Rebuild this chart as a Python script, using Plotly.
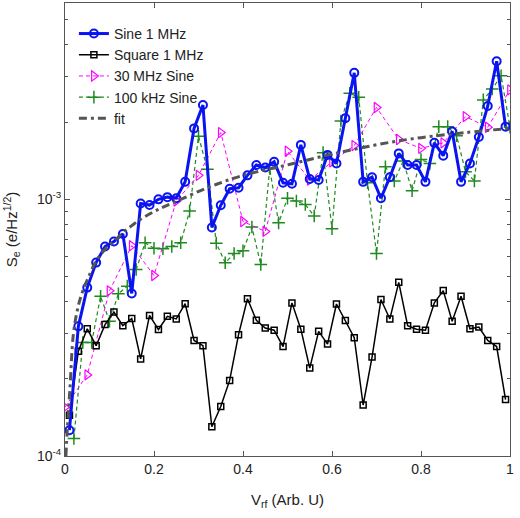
import plotly.graph_objects as go

# x grids (Arb. U)
x_odd = [round(0.01 + 0.02 * i, 2) for i in range(50)]
x_even = [round(0.02 + 0.02 * i, 2) for i in range(50)]
x_30mhz = [round(0.05 * i, 2) for i in range(21)]

# Sine 1 MHz (units of 1e-3)
sine_1mhz = [0.126, 0.320, 0.453, 0.567, 0.655, 0.685, 0.733, 0.430, 0.964, 0.950,
             1.00, 1.02, 1.01, 1.17, 1.89, 2.33, 0.777, 0.948, 1.10, 1.11,
             1.24, 1.36, 1.33, 1.40, 1.16, 1.15, 1.63, 1.20, 1.19, 1.49,
             1.38, 2.07, 3.11, 1.17, 1.22, 1.01, 1.22, 1.51, 1.36, 1.36,
             1.17, 1.66, 1.48, 1.84, 1.17, 1.38, 1.75, 2.31, 3.45, 1.92]

# Square 1 MHz (units of 1e-4)
square_1mhz = [1.44, 2.56, 3.13, 2.69, 3.25, 3.64, 3.22, 3.43, 2.39, 3.53,
               3.11, 3.50, 3.42, 3.92, 2.82, 2.69, 1.30, 1.56, 1.97, 2.97,
               4.10, 3.38, 3.15, 3.09, 2.67, 3.95, 3.12, 2.20, 3.06, 2.73,
               3.91, 3.37, 2.89, 1.58, 2.43, 4.07, 3.42, 4.75, 3.22, 3.12,
               3.09, 3.95, 4.41, 3.35, 4.19, 3.13, 3.18, 2.82, 2.67, 1.66]

# 30 MHz Sine (units of 1e-4)
sine_30mhz = [1.55, 2.07, 4.40, 6.60, 5.05, 9.85, 12.4, 18.2, 8.20, 7.50, 15.4,
              11.9, 14.0, 16.2, 22.8, 17.1, 15.8, 16.6, 21.0, 19.1, 26.7]

# 100 kHz Sine (units of 1e-4)
sine_100khz = [1.17, 2.77, 2.77, 4.19, 3.35, 4.29, 4.59, 5.33, 6.77, 6.45,
               6.42, 6.55, 6.77, 9.0, 17.6, 13.1, 6.75, 5.66, 6.15, 6.30,
               7.80, 5.57, 13.2, 8.10, 10.1, 9.85, 9.55, 8.61, 15.2, 7.68,
               20.2, 25.9, 25.0, 11.6, 6.15, 13.4, 11.8, 14.1, 10.8, 14.3,
               13.8, 19.2, 19.2, 17.7, 12.8, 11.8, 24.4, 26.9, 30.3, 19.1]

# fit curve (units of 1e-3)
fit_x = [0.002, 0.005, 0.011, 0.019, 0.03, 0.041, 0.052, 0.07, 0.094, 0.112,
         0.131, 0.15, 0.169, 0.213, 0.26, 0.326, 0.4, 0.506, 0.6, 0.75, 0.9, 1.0]
fit_y = [0.100, 0.126, 0.181, 0.300, 0.385, 0.445, 0.494, 0.575, 0.650, 0.690,
         0.745, 0.790, 0.835, 0.920, 1.00, 1.12, 1.24, 1.37, 1.50, 1.69, 1.82, 1.89]

fig = go.Figure()

fig.add_trace(go.Scatter(x=x_even, y=[v * 1e-4 for v in sine_100khz], name="100 kHz Sine",
                         mode="lines+markers", legendrank=4,
                         line=dict(color="#1f8a1f", width=1.2, dash="4px,3px"),
                         marker=dict(symbol="cross-thin-open", size=9,
                                     line=dict(color="#1f8a1f", width=1.5))))
fig.add_trace(go.Scatter(x=x_30mhz, y=[v * 1e-4 for v in sine_30mhz], name="30 MHz Sine",
                         mode="lines+markers", legendrank=3,
                         line=dict(color="#ff00ff", width=1, dash="4px,3px"),
                         marker=dict(symbol="triangle-right-open", size=9,
                                     line=dict(color="#ff00ff", width=1.2))))
fig.add_trace(go.Scatter(x=x_odd, y=[v * 1e-4 for v in square_1mhz], name="Square 1 MHz",
                         mode="lines+markers", legendrank=2,
                         line=dict(color="black", width=1.5),
                         marker=dict(symbol="square-open", size=6, color="black",
                                     line=dict(color="black", width=1.5))))
fig.add_trace(go.Scatter(x=x_odd, y=[v * 1e-3 for v in sine_1mhz], name="Sine 1 MHz",
                         mode="lines+markers", legendrank=1,
                         line=dict(color="#0a14f0", width=3),
                         marker=dict(symbol="circle-open", size=8, color="#0a14f0",
                                     line=dict(color="#0a14f0", width=2))))
fig.add_trace(go.Scatter(x=fit_x, y=[v * 1e-3 for v in fit_y], name="fit",
                         mode="lines", legendrank=5, line_shape="spline",
                         line=dict(color="#555555", width=3, dash="8px,4px,3px,4px")))

axis_style = dict(showline=True, linecolor="#555", linewidth=1, mirror="ticks",
                  ticks="inside", ticklen=5, tickcolor="#555", showgrid=False,
                  zeroline=False, automargin=False, tickfont=dict(size=14, color="#222"))

fig.update_xaxes(range=[0, 1], tickvals=[0, 0.2, 0.4, 0.6, 0.8, 1],
                 ticktext=["0", "0.2", "0.4", "0.6", "0.8", "1"],
                 title=dict(text="V<sub>rf</sub> (Arb. U)", font=dict(size=15, color="#222"),
                            standoff=18),
                 **axis_style)
fig.update_yaxes(type="log", range=[-4, -2.235], tickvals=[1e-4, 1e-3],
                 ticktext=["10<sup>-4</sup>", "10<sup>-3</sup>"],
                 minor=dict(ticks="inside", ticklen=3, tickcolor="#555", tickmode="array",
                            tickvals=[2e-4, 3e-4, 4e-4, 5e-4, 6e-4, 7e-4, 8e-4, 9e-4,
                                      2e-3, 3e-3, 4e-3, 5e-3]),
                 title=dict(text="S<sub>e</sub> (e/Hz<sup>1/2</sup>)",
                            font=dict(size=15, color="#222")),
                 **axis_style)

fig.update_layout(width=520, height=518,
                  margin=dict(l=65, r=10, t=3, b=62),
                  plot_bgcolor="white", paper_bgcolor="white",
                  font=dict(family="Liberation Sans, Arial, sans-serif", color="#222"),
                  legend=dict(x=0.02, y=0.967, xanchor="left", yanchor="top",
                              bgcolor="rgba(0,0,0,0)", font=dict(size=14),
                              itemwidth=30, tracegroupgap=0),
                  showlegend=True)

# drop the page's default body margin so the figure sits at the window corner
fig.write_html("out.html", config={"displayModeBar": False},
               post_script="document.body.style.margin='0';")
